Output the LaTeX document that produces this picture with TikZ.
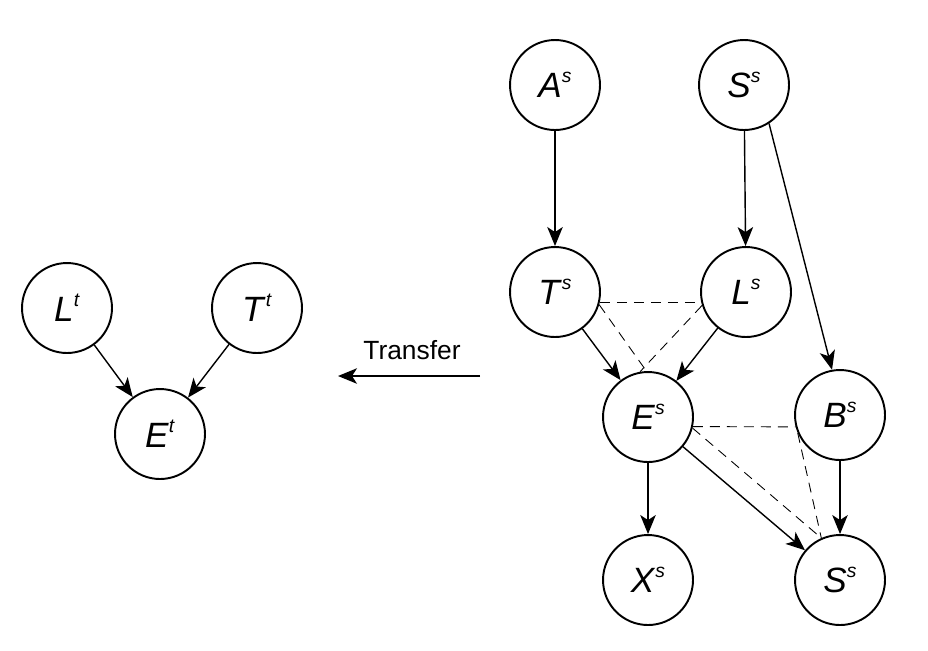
\documentclass[tikz,border=0pt]{standalone}
\usepackage{fontspec}
\setmainfont{Liberation Sans}
\usepackage{tikz}
\usetikzlibrary{arrows.meta}
\newcommand{\vr}[2]{\textit{#1}\raisebox{0.42em}{\fontsize{11}{11}\selectfont\textit{#2}}}

\begin{document}
\begin{tikzpicture}[x=0.02cm,y=-0.02cm,
  var/.style={draw,circle,line width=1.1pt,minimum size=1.8cm,inner sep=0pt,font=\fontsize{20}{24}\selectfont},
  dep/.style={line width=0.8pt,-{Stealth[length=3.8mm,width=3.1mm,inset=1mm]}},
  corr/.style={line width=0.5pt,dash pattern=on 2mm off 1.4mm}]
				\useasboundingbox (0,0) rectangle (928,650);
				% source network
				\node[var] (As) at (555,85) {\vr{A}{s}};
				\node[var] (Sa) at (744,85) {\vr{S}{s}};
				\node[var] (Ts) at (555,292) {\vr{T}{s}};
				\node[var] (Ls) at (746,292) {\vr{L}{s}};
				\node[var] (Es) at (648,417) {\vr{E}{s}};
				\node[var] (Bs) at (840,415) {\vr{B}{s}};
				\node[var] (Xs) at (648,580) {\vr{X}{s}};
				\node[var] (Sb) at (840,580) {\vr{S}{s}};
				\draw[dep] (As) -- (Ts);
				\draw[dep] (Sa) -- (Ls);
				\draw[dep] (Sa.-57) -- (Bs.100);
				\draw[dep] (Ts) -- (Es);
				\draw[dep] (Ls) -- (Es);
				\draw[dep] (Es) -- (Xs);
				\draw[dep] (Es) -- (Sb);
				\draw[dep] (Bs) -- (Sb);
				\draw[corr] (Ts.-13) -- (Ls.-167);
				\draw[corr] (Ts.-16) -- (Es.92);
				\draw[corr] (Ls.-163) -- (Es.100);
				\draw[corr] (Es.-12) -- (Bs.-165);
				\draw[corr] (Es.-14) -- (Sb.114);
				\draw[corr] (Bs.-157) -- (Sb.114);
				% target network
				\node[var] (Lt) at (67,308) {\vr{L}{t}};
				\node[var] (Tt) at (257,308) {\vr{T}{t}};
				\node[var] (Et) at (160,434) {\vr{E}{t}};
				\draw[dep] (Lt) -- (Et);
				\draw[dep] (Tt) -- (Et);
				% transfer
				\coordinate (tr1) at (480,376);
				\coordinate (tr2) at (338,376);
				\draw[dep] (tr1) -- (tr2);
				\node[font=\fontsize{15}{18}\selectfont] (trl) at (412,350) {Transfer};
			\end{tikzpicture}
\end{document}
